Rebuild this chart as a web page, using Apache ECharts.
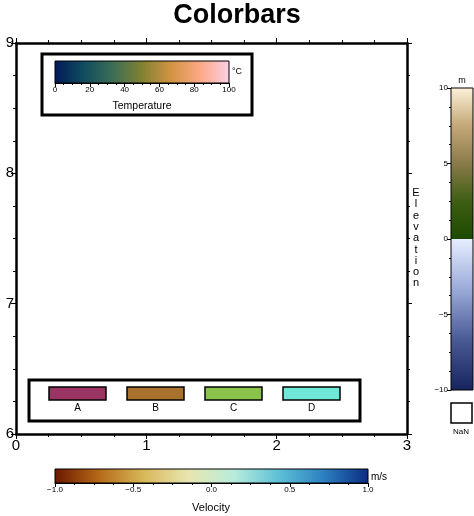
<!DOCTYPE html><html><head><meta charset="utf-8"><script src="https://cdn.jsdelivr.net/npm/echarts@6/dist/echarts.min.js"></script>
<style>html,body{margin:0;padding:0;background:#fff}#c{width:474px;height:516px}</style></head><body><div id="c"></div><script>
const categories=['A','B','C','D'];
const categoryColors=['#9a3462','#a8722e','#8bc24c','#6fe8d8'];
const tempRange=[0,100], tempStops=['#011959','#104c5e','#3c6d56','#818232','#d29343','#fca985','#fccfe6'];
const elevRange=[-10,10];
const velRange=[-1,1], velStops=['#6a1800','#b66a18','#d8b85a','#e8e6b0','#b8ecdc','#5ec0d6','#2c80c0','#0c2c84'];
const xRange=[0,3], yRange=[6,9];
const F='Liberation Sans, Helvetica, Arial, sans-serif';
const ch=echarts.init(document.getElementById('c'));
function grad(stops,vertical){return new echarts.graphic.LinearGradient(0,vertical?1:0,vertical?0:1,0,stops.map((c,i)=>({offset:i/(stops.length-1),color:c})));}
const lbl={fontFamily:F,color:'#000'};
const ax=(pos,min,max,iv,show)=>({type:'value',position:pos,min,max,interval:iv,axisLine:{show:true,onZero:false,lineStyle:{color:'#000',width:1}},axisTick:{show:true,length:4,lineStyle:{color:'#000'}},minorTick:{show:true,splitNumber:4,length:2,lineStyle:{color:'#000'}},splitLine:{show:false},axisLabel:{show:show,fontSize:8,margin:3,...lbl}});
const hid=(min,max)=>({type:'value',min,max,show:false});
const mainX=(pos,show)=>({type:'value',position:pos,min:xRange[0],max:xRange[1],interval:1,axisLine:{show:true,onZero:false,lineStyle:{color:'#000',width:2.5}},axisTick:{show:true,length:5,lineStyle:{color:'#000',width:1}},minorTick:{show:true,splitNumber:4,length:3,lineStyle:{color:'#000'}},splitLine:{show:false},axisLabel:{show:show,fontSize:15,margin:4,...lbl}});
const mainY=(pos,show)=>({type:'value',position:pos,min:yRange[0],max:yRange[1],interval:1,axisLine:{show:true,onZero:false,lineStyle:{color:'#000',width:2.5}},axisTick:{show:true,length:5,lineStyle:{color:'#000',width:1}},minorTick:{show:true,splitNumber:4,length:3,lineStyle:{color:'#000'}},splitLine:{show:false},axisLabel:{show:show,fontSize:15,margin:2,...lbl}});
const g=[];
// category boxes
g.push({type:'rect',shape:{x:29,y:380,width:331,height:41},style:{fill:'#fff',stroke:'#000',lineWidth:3}});
const bx=[49,127,205,283];
categories.forEach((c,i)=>{g.push({type:'rect',shape:{x:bx[i],y:387,width:57,height:13},style:{fill:categoryColors[i],stroke:'#000',lineWidth:1.5}});
g.push({type:'text',x:bx[i]+28.5,y:408,style:{text:c,fontSize:10,fontFamily:F,fill:'#000',align:'center',verticalAlign:'middle'}});});
// temperature
g.push({type:'rect',shape:{x:42,y:54,width:210,height:61},style:{fill:'#fff',stroke:'#000',lineWidth:3}});
g.push({type:'rect',z:5,shape:{x:55,y:61,width:174,height:22},style:{fill:grad(tempStops,false),stroke:'#000',lineWidth:1}});
g.push({type:'text',x:232,y:72,style:{text:'°C',fontSize:9,fontFamily:F,fill:'#000',verticalAlign:'middle'}});
g.push({type:'text',x:142,y:106,style:{text:'Temperature',fontSize:10.5,fontFamily:F,fill:'#000',align:'center',verticalAlign:'middle'}});
// elevation
g.push({type:'rect',z:5,shape:{x:451,y:88,width:22,height:151},style:{fill:grad(['#1c4a02','#3e5e12','#8a7a4a','#c4a878','#fdf1d8'],true),stroke:null}});
g.push({type:'rect',z:5,shape:{x:451,y:239,width:22,height:151},style:{fill:grad(['#16245e','#4a5a96','#9aaad8','#e6eeff'],true),stroke:null}});
g.push({type:'rect',z:6,shape:{x:451,y:88,width:22,height:302},style:{fill:null,stroke:'#000',lineWidth:1}});
g.push({type:'text',x:462,y:81,style:{text:'m',fontSize:9,fontFamily:F,fill:'#000',align:'center',verticalAlign:'middle'}});
g.push({type:'rect',shape:{x:451,y:403,width:21,height:20},style:{fill:'#fff',stroke:'#000',lineWidth:1.5}});
g.push({type:'text',x:461,y:432,style:{text:'NaN',fontSize:8,fontFamily:F,fill:'#000',align:'center',verticalAlign:'middle'}});
'Elevation'.split('').forEach((c,i)=>g.push({type:'text',x:416,y:193+i*11.3,style:{text:c,fontSize:11,fontFamily:F,fill:'#000',align:'center',verticalAlign:'middle'}}));
// velocity
g.push({type:'rect',z:5,shape:{x:55,y:469,width:313,height:14},style:{fill:grad(velStops,false),stroke:'#000',lineWidth:1}});
g.push({type:'text',x:371,y:477,style:{text:'m/s',fontSize:10,fontFamily:F,fill:'#000',verticalAlign:'middle'}});
g.push({type:'text',x:211,y:508,style:{text:'Velocity',fontSize:11,fontFamily:F,fill:'#000',align:'center',verticalAlign:'middle'}});
ch.setOption({
animation:false,
title:{text:'Colorbars',left:'center',top:-3,textStyle:{fontFamily:F,fontSize:27,fontWeight:'bold',color:'#000'}},
grid:[{left:16,right:67,top:43,bottom:82},{left:55,width:174,top:61,height:22},{left:451,width:22,top:88,height:302},{left:55,width:313,top:469,height:14}],
xAxis:[mainX('bottom',true),{...mainX('top',false),gridIndex:0},{...ax('bottom',tempRange[0],tempRange[1],20,true),gridIndex:1},{...hid(0,1),gridIndex:2},{...ax('bottom',velRange[0],velRange[1],0.5,true),gridIndex:3,axisLabel:{show:true,fontSize:8,margin:3,...lbl,formatter:v=>v.toFixed(1).replace('-','−')}}],
yAxis:[mainY('left',true),{...mainY('right',false),gridIndex:0},{...hid(0,1),gridIndex:1},{...ax('left',elevRange[0],elevRange[1],5,true),gridIndex:2,axisLabel:{show:true,fontSize:8,margin:3,...lbl,formatter:v=>String(v).replace('-','−')}},{...hid(0,1),gridIndex:3}],
series:[{type:'line',xAxisIndex:0,yAxisIndex:0,data:[]}],
graphic:g});
</script></body></html>
